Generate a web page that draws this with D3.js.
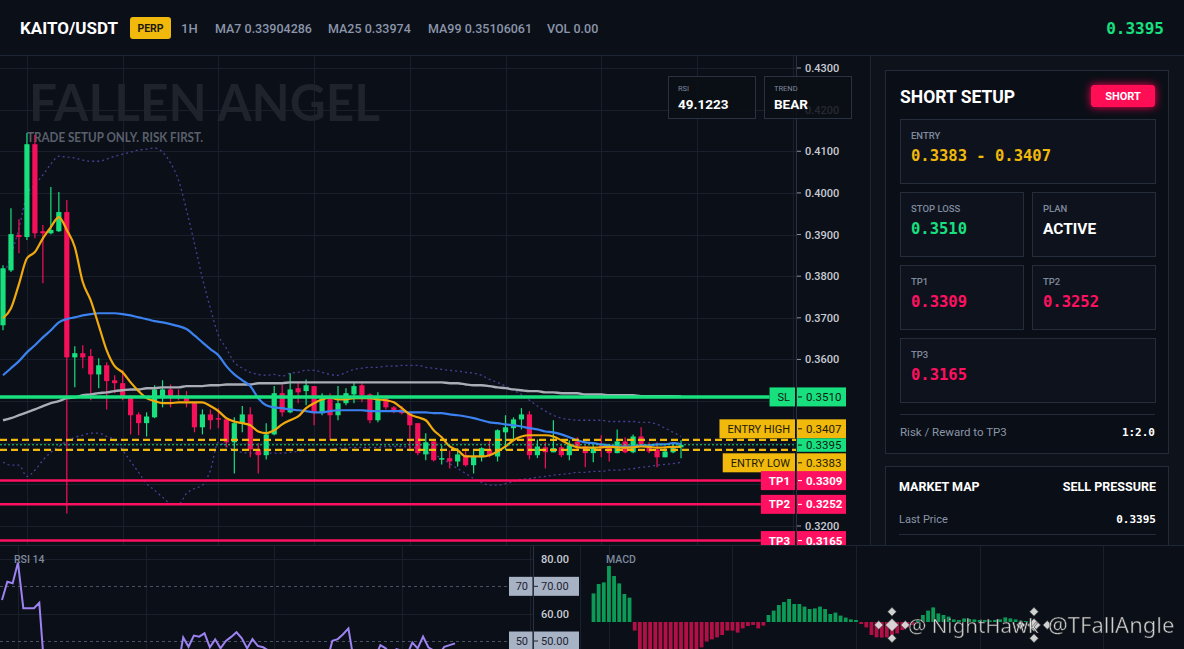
<!DOCTYPE html>
<html lang="en">
<head>
<meta charset="UTF-8" />
<title>KAITO/USDT Short Setup</title>
<style>
  body { margin: 0; background: #0b0f17; overflow: hidden; }
  svg { display: block; font-family: Roboto, "Noto Sans", sans-serif; }
  .mono { font-family: "DejaVu Sans Mono", monospace; }
</style>
</head>
<body>
<div id="chart"></div>
<script src="https://cdn.jsdelivr.net/npm/d3@7/dist/d3.min.js"></script>
<script>
// ---- data ----
var opens = [0.3682,0.3814,0.3899,0.3894,0.4117,0.3908,0.3903,0.3908,0.3954,0.3605,0.3615,0.3608,0.3564,0.3586,0.3550,0.3543,0.3509,0.3468,0.3447,0.3461,0.3507,0.3528,0.3514,0.3512,0.3495,0.3437,0.3468,0.3459,0.3456,0.3401,0.3447,0.3468,0.3384,0.3370,0.3420,0.3519,0.3473,0.3531,0.3524,0.3536,0.3471,0.3512,0.3466,0.3495,0.3516,0.3538,0.3516,0.3454,0.3512,0.3485,0.3480,0.3471,0.3447,0.3372,0.3403,0.3360,0.3363,0.3355,0.3370,0.3346,0.3365,0.3384,0.3367,0.3425,0.3435,0.3456,0.3468,0.3370,0.3389,0.3377,0.3389,0.3370,0.3403,0.3391,0.3375,0.3394,0.3389,0.3375,0.3403,0.3377,0.3415,0.3394,0.3384,0.3365,0.3377,0.3389];
var highs = [0.3826,0.3963,0.3937,0.4144,0.4139,0.3923,0.4014,0.4002,0.3983,0.3632,0.3634,0.3625,0.3603,0.3593,0.3562,0.3574,0.3514,0.3473,0.3473,0.3538,0.3550,0.3540,0.3528,0.3524,0.3495,0.3480,0.3480,0.3483,0.3461,0.3461,0.3488,0.3485,0.3399,0.3447,0.3536,0.3540,0.3567,0.3545,0.3552,0.3536,0.3519,0.3519,0.3536,0.3531,0.3545,0.3543,0.3519,0.3521,0.3514,0.3488,0.3488,0.3473,0.3447,0.3423,0.3406,0.3394,0.3382,0.3387,0.3387,0.3384,0.3389,0.3406,0.3432,0.3466,0.3461,0.3483,0.3476,0.3408,0.3401,0.3454,0.3394,0.3406,0.3413,0.3394,0.3394,0.3418,0.3394,0.3432,0.3413,0.3420,0.3437,0.3401,0.3401,0.3387,0.3399,0.3406];
var lows = [0.3670,0.3810,0.3855,0.3887,0.3891,0.3783,0.3901,0.3906,0.3230,0.3533,0.3579,0.3502,0.3531,0.3480,0.3519,0.3502,0.3420,0.3418,0.3415,0.3459,0.3485,0.3485,0.3502,0.3485,0.3425,0.3420,0.3432,0.3435,0.3389,0.3326,0.3425,0.3365,0.3326,0.3360,0.3418,0.3463,0.3471,0.3495,0.3490,0.3442,0.3466,0.3406,0.3454,0.3490,0.3495,0.3497,0.3447,0.3449,0.3480,0.3471,0.3468,0.3382,0.3370,0.3358,0.3355,0.3348,0.3338,0.3343,0.3343,0.3326,0.3355,0.3365,0.3355,0.3382,0.3408,0.3432,0.3360,0.3363,0.3338,0.3377,0.3365,0.3358,0.3382,0.3341,0.3353,0.3365,0.3355,0.3375,0.3375,0.3375,0.3391,0.3375,0.3341,0.3365,0.3375,0.3363];
var closes = [0.3819,0.3901,0.3894,0.4117,0.3903,0.3903,0.3911,0.3954,0.3605,0.3615,0.3605,0.3564,0.3586,0.3548,0.3543,0.3507,0.3466,0.3447,0.3463,0.3528,0.3528,0.3509,0.3507,0.3500,0.3437,0.3468,0.3454,0.3456,0.3401,0.3447,0.3468,0.3384,0.3370,0.3420,0.3519,0.3473,0.3528,0.3521,0.3538,0.3471,0.3507,0.3466,0.3495,0.3519,0.3536,0.3514,0.3454,0.3504,0.3485,0.3478,0.3471,0.3442,0.3375,0.3401,0.3358,0.3363,0.3355,0.3372,0.3346,0.3368,0.3387,0.3370,0.3430,0.3437,0.3456,0.3468,0.3370,0.3391,0.3377,0.3387,0.3370,0.3394,0.3391,0.3375,0.3389,0.3387,0.3375,0.3403,0.3377,0.3415,0.3394,0.3379,0.3365,0.3379,0.3387,0.3395];

var ma7 = [0.3699,0.3723,0.3781,0.3843,0.3858,0.3891,0.3918,0.3942,0.3911,0.3870,0.3786,0.3742,0.3682,0.3622,0.3584,0.3569,0.3545,0.3524,0.3507,0.3500,0.3495,0.3495,0.3497,0.3497,0.3497,0.3497,0.3488,0.3476,0.3459,0.3451,0.3447,0.3442,0.3427,0.3423,0.3430,0.3444,0.3454,0.3463,0.3483,0.3495,0.3504,0.3509,0.3504,0.3504,0.3507,0.3507,0.3507,0.3504,0.3502,0.3497,0.3483,0.3468,0.3461,0.3454,0.3430,0.3413,0.3391,0.3382,0.3367,0.3367,0.3367,0.3370,0.3379,0.3391,0.3406,0.3415,0.3418,0.3418,0.3418,0.3415,0.3406,0.3396,0.3389,0.3388,0.3388,0.3389,0.3390,0.3389,0.3388,0.3389,0.3391,0.3390,0.3388,0.3389,0.3390,0.3390];
var ma25 = [0.3562,0.3579,0.3596,0.3617,0.3634,0.3653,0.3670,0.3689,0.3697,0.3701,0.3706,0.3709,0.3711,0.3711,0.3711,0.3709,0.3706,0.3701,0.3697,0.3692,0.3689,0.3685,0.3680,0.3673,0.3658,0.3641,0.3625,0.3610,0.3584,0.3564,0.3550,0.3536,0.3507,0.3490,0.3485,0.3483,0.3480,0.3478,0.3476,0.3473,0.3473,0.3476,0.3478,0.3478,0.3478,0.3478,0.3476,0.3476,0.3476,0.3476,0.3476,0.3473,0.3473,0.3473,0.3471,0.3471,0.3468,0.3466,0.3463,0.3459,0.3454,0.3449,0.3447,0.3444,0.3442,0.3439,0.3435,0.3432,0.3427,0.3425,0.3420,0.3413,0.3406,0.3401,0.3399,0.3396,0.3394,0.3391,0.3391,0.3391,0.3394,0.3394,0.3396,0.3396,0.3399,0.3397];
var ma99 = [0.3454,0.3459,0.3466,0.3473,0.3480,0.3488,0.3495,0.3500,0.3507,0.3509,0.3514,0.3516,0.3519,0.3521,0.3524,0.3526,0.3528,0.3528,0.3531,0.3531,0.3533,0.3533,0.3533,0.3536,0.3536,0.3536,0.3538,0.3538,0.3540,0.3540,0.3540,0.3540,0.3543,0.3543,0.3543,0.3543,0.3545,0.3545,0.3545,0.3545,0.3545,0.3545,0.3545,0.3545,0.3545,0.3545,0.3545,0.3545,0.3545,0.3545,0.3545,0.3545,0.3545,0.3545,0.3545,0.3545,0.3543,0.3543,0.3540,0.3538,0.3538,0.3536,0.3533,0.3531,0.3528,0.3526,0.3524,0.3524,0.3521,0.3521,0.3519,0.3519,0.3519,0.3516,0.3516,0.3516,0.3514,0.3514,0.3514,0.3514,0.3512,0.3512,0.3512,0.3512,0.3512,0.3511];
var bbUpper = [0.3798,0.3850,0.3915,0.3995,0.4019,0.4043,0.4069,0.4088,0.4086,0.4084,0.4079,0.4076,0.4076,0.4081,0.4088,0.4093,0.4098,0.4103,0.4105,0.4108,0.4098,0.4072,0.4031,0.3959,0.3879,0.3795,0.3723,0.3658,0.3627,0.3593,0.3579,0.3569,0.3564,0.3562,0.3564,0.3560,0.3567,0.3569,0.3574,0.3574,0.3569,0.3564,0.3562,0.3569,0.3576,0.3579,0.3581,0.3581,0.3584,0.3584,0.3586,0.3586,0.3586,0.3581,0.3579,0.3576,0.3574,0.3572,0.3569,0.3567,0.3562,0.3552,0.3545,0.3536,0.3526,0.3516,0.3502,0.3488,0.3476,0.3466,0.3459,0.3456,0.3454,0.3454,0.3454,0.3454,0.3451,0.3451,0.3451,0.3451,0.3449,0.3449,0.3444,0.3435,0.3425,0.3415];
var bbLower = [0.3353,0.3346,0.3346,0.3319,0.3334,0.3358,0.3377,0.3391,0.3403,0.3413,0.3418,0.3423,0.3423,0.3415,0.3406,0.3382,0.3355,0.3329,0.3302,0.3286,0.3269,0.3254,0.3252,0.3278,0.3290,0.3298,0.3334,0.3401,0.3391,0.3382,0.3377,0.3375,0.3375,0.3375,0.3375,0.3375,0.3377,0.3379,0.3382,0.3382,0.3384,0.3384,0.3387,0.3387,0.3389,0.3389,0.3389,0.3389,0.3391,0.3391,0.3391,0.3389,0.3387,0.3379,0.3370,0.3363,0.3350,0.3338,0.3326,0.3314,0.3305,0.3298,0.3298,0.3302,0.3307,0.3312,0.3314,0.3317,0.3319,0.3322,0.3324,0.3326,0.3329,0.3329,0.3331,0.3331,0.3334,0.3334,0.3336,0.3338,0.3341,0.3343,0.3346,0.3348,0.3350,0.3353];

var rsi14 = [65,71.7,71.1,78.7,62,62,62,64,38,38.5,38,36,38,35,34,33,30,29,31,38,40,38,38,37,33,37,36,36.5,32,38,41,35,34,40,51.3,47.9,52,51.6,52.8,47.7,50.6,47.3,50,51.5,53.2,51,47.3,50.7,48.2,47.7,46.5,44,40,43,39,40,39,42,39,42,44,43,50.1,50.7,52.5,54.6,43,45.5,44.5,45.5,44,48.5,47.3,45,47,46.5,45,49.4,47.3,51.6,47.7,46.5,45,47.9,48.5,49.12];
var macdHist = [0.00143,0.0019,0.00198,0.0028,0.0023,0.00193,0.0014,0.00122,-0.00043,-0.0016,-0.002,-0.0023,-0.0025,-0.0026,-0.0026,-0.0025,-0.0023,-0.0021,-0.0018,-0.0016,-0.0014,-0.00127,-0.00098,-0.00087,-0.00077,-0.00065,-0.00043,-0.00043,-0.00053,-0.00032,-0.0002,-0.00015,-0.00032,-0.00018,0.00035,0.00057,0.00085,0.001,0.00115,0.0009,0.0009,0.00077,0.00065,0.00068,0.00077,0.00065,0.0004,0.00047,0.00032,0.00022,0.00013,0.0001,-0.0001,-0.00027,-0.00065,-0.00077,-0.00078,-0.00077,-0.00068,-0.00057,-0.0004,-0.00027,-0.00015,0.0001,0.00035,0.00057,0.00073,0.00043,0.00035,0.00027,0.00013,0.0001,0.00018,0.00015,0.00013,0.0001,0.0001,0.00008,0.0001,0.00013,0.00023,0.00018,0.00013,0.00007,0.00005,0.00004];

var priceTicks = [0.32,0.33,0.34,0.35,0.36,0.37,0.38,0.39,0.40,0.41,0.42,0.43];
var rsiTicks = [80,70,60,50];
var rsiMarked = [70,50];
var gridIdx = [3,15,27,39,51,63,75,87,99];
var paneGridIdx = [3,27,51,75,99];

var levelNames = ["SL","ENTRY HIGH","ENTRY LOW","TP1","TP2","TP3"];
var levelValues = [0.3510,0.3407,0.3383,0.3309,0.3252,0.3165];
var lastPrice = 0.3395;

var headerStats = ["MA7 0.33904286","MA25 0.33974","MA99 0.35106061","VOL 0.00"];
var cardLabels = ["ENTRY","STOP LOSS","PLAN","TP1","TP2","TP3"];
var cardValues = ["0.3383 - 0.3407","0.3510","ACTIVE","0.3309","0.3252","0.3165"];
var rsiNow = "49.1223", trendNow = "BEAR", riskReward = "1:2.0";

// ---- colours ----
var bg = "#0b0f17", grid = "#1a202b", muted = "#7f8a9e";
var green = "#18e07f", red = "#f6105a", yellow = "#f0b90b", tpRed = "#ff1060";

var W = 1184, H = 649;
var svg = d3.select("#chart").append("svg").attr("width", W).attr("height", H);
svg.append("rect").attr("width", W).attr("height", H).attr("fill", bg);

var defs = svg.append("defs");
defs.append("clipPath").attr("id", "mainClip").append("rect")
  .attr("x", 0).attr("y", 56).attr("width", 796).attr("height", 489);
defs.append("clipPath").attr("id", "paneClip").append("rect")
  .attr("x", 0).attr("y", 56).attr("width", 870).attr("height", 489);
defs.append("clipPath").attr("id", "rsiClip").append("rect")
  .attr("x", 0).attr("y", 546).attr("width", 533).attr("height", 103);
defs.append("clipPath").attr("id", "macdClip").append("rect")
  .attr("x", 581).attr("y", 546).attr("width", 603).attr("height", 103);
var glow = defs.append("filter").attr("id", "glow").attr("x", "-50%").attr("y", "-80%").attr("width", "200%").attr("height", "260%");
glow.append("feGaussianBlur").attr("in", "SourceGraphic").attr("stdDeviation", 4).attr("result", "b");
var fm = glow.append("feMerge");
fm.append("feMergeNode").attr("in", "b");
fm.append("feMergeNode").attr("in", "SourceGraphic");

// ---- header ----
svg.append("line").attr("x1", 0).attr("x2", W).attr("y1", 55.5).attr("y2", 55.5).attr("stroke", "#1f2633");
svg.append("text").attr("x", 20).attr("y", 34).attr("fill", "#fff")
  .attr("font-size", 17).attr("font-weight", 700).text("KAITO/USDT");
svg.append("rect").attr("x", 130).attr("y", 17).attr("width", 41).attr("height", 22).attr("rx", 3).attr("fill", yellow);
svg.append("text").attr("x", 150.5).attr("y", 32).attr("text-anchor", "middle").attr("fill", "#1e1a0a")
  .attr("font-size", 10.5).attr("font-weight", 700).text("PERP");
svg.append("text").attr("x", 181).attr("y", 33).attr("fill", "#8a95aa")
  .attr("font-size", 13).attr("font-weight", 500).text("1H");
var statX = [215, 328, 428, 547];
svg.selectAll("text.stat").data(headerStats).enter().append("text").attr("class", "stat")
  .attr("x", function(d, i) { return statX[i]; }).attr("y", 32.5)
  .attr("fill", "#8a95aa").attr("font-size", 12.5).attr("font-weight", 500).text(function(d) { return d; });
svg.append("text").attr("class", "mono").attr("x", 1164).attr("y", 34).attr("text-anchor", "end")
  .attr("fill", green).attr("font-size", 16).attr("font-weight", 700).text(lastPrice.toFixed(4));

// ---- main price pane ----
var x = d3.scaleLinear().domain([0, 85]).range([3, 681]);
var y = d3.scaleLinear().domain([0.32, 0.43]).range([526, 68]);

var gridG = svg.append("g").attr("clip-path", "url(#mainClip)");
gridG.selectAll("line.h").data(priceTicks).enter().append("line")
  .attr("x1", 0).attr("x2", 796).attr("y1", function(d) { return Math.round(y(d)) + 0.5; })
  .attr("y2", function(d) { return Math.round(y(d)) + 0.5; }).attr("stroke", grid);
gridG.selectAll("line.v").data(gridIdx).enter().append("line")
  .attr("x1", function(d) { return Math.round(x(d)) + 0.5; }).attr("x2", function(d) { return Math.round(x(d)) + 0.5; })
  .attr("y1", 56).attr("y2", 545).attr("stroke", grid);

// watermark title
svg.append("text").attr("x", 29).attr("y", 121).attr("font-family", "Lato, 'Open Sans', sans-serif")
  .attr("font-size", 52).attr("font-weight", 700).attr("fill", "#1e232c")
  .attr("textLength", 351).attr("lengthAdjust", "spacingAndGlyphs").text("FALLEN ANGEL");
svg.append("text").attr("x", 27).attr("y", 142).attr("font-family", "Lato, 'Open Sans', sans-serif")
  .attr("font-size", 12.5).attr("font-weight", 700).attr("fill", "#59606b")
  .attr("textLength", 176).attr("lengthAdjust", "spacingAndGlyphs").text("TRADE SETUP ONLY. RISK FIRST.");

var plot = svg.append("g").attr("clip-path", "url(#mainClip)");

var idx = d3.range(opens.length);
var lineOf = function(arr) {
  return d3.line().x(function(i) { return x(i); }).y(function(i) { return y(arr[i]); }).curve(d3.curveMonotoneX)(idx);
};

// bollinger bands
[bbUpper, bbLower].forEach(function(arr) {
  plot.append("path").attr("d", lineOf(arr)).attr("fill", "none")
    .attr("stroke", "#4a3f96").attr("stroke-width", 1.3).attr("stroke-dasharray", "2,3");
});

// candles
var candles = idx.map(function(i) { return { i: i, o: opens[i], h: highs[i], l: lows[i], c: closes[i] }; });
var cg = plot.selectAll("g.candle").data(candles).enter().append("g");
cg.append("line")
  .attr("x1", function(d) { return x(d.i); }).attr("x2", function(d) { return x(d.i); })
  .attr("y1", function(d) { return y(d.h); }).attr("y2", function(d) { return y(d.l); })
  .attr("stroke", function(d) { return d.c >= d.o ? green : red; }).attr("stroke-width", 1.2);
cg.append("rect")
  .attr("x", function(d) { return x(d.i) - 2.6; }).attr("width", 5.2)
  .attr("y", function(d) { return y(Math.max(d.o, d.c)); })
  .attr("height", function(d) { return Math.max(1.5, Math.abs(y(d.o) - y(d.c))); })
  .attr("fill", function(d) { return d.c >= d.o ? green : red; });

// moving averages
plot.append("path").attr("d", lineOf(ma99)).attr("fill", "none").attr("stroke", "#a9aeb6").attr("stroke-width", 2.4);
plot.append("path").attr("d", lineOf(ma25)).attr("fill", "none").attr("stroke", "#3b82f0").attr("stroke-width", 2.2);
plot.append("path").attr("d", lineOf(ma7)).attr("fill", "none").attr("stroke", "#f0aa0e").attr("stroke-width", 2.2);

// level lines
function levelColor(n) { return n === "SL" ? green : (n.indexOf("ENTRY") === 0 ? yellow : tpRed); }
function levelText(n) { return n === "SL" ? "#0c1a12" : (n.indexOf("ENTRY") === 0 ? "#231a00" : "#ffffff"); }
var boxOffset = { "SL": -9.5, "ENTRY HIGH": -20.5, "ENTRY LOW": 3.5, "TP1": -9.5, "TP2": -9.5, "TP3": -9.5 };

plot.append("line").attr("x1", 0).attr("x2", 796).attr("y1", y(lastPrice)).attr("y2", y(lastPrice))
  .attr("stroke", green).attr("stroke-width", 1).attr("stroke-dasharray", "2,2");

var labelG = svg.append("g").attr("clip-path", "url(#mainClip)");
levelNames.forEach(function(n, k) {
  var ly = y(levelValues[k]);
  var col = levelColor(n);
  var g = labelG.append("g");
  var rect = g.append("rect").attr("fill", col);
  var t = g.append("text").attr("x", 790).attr("y", ly + boxOffset[n] + 13.5).attr("text-anchor", "end")
    .attr("font-size", n.indexOf("TP") === 0 ? 11.5 : 11).attr("font-weight", n.indexOf("TP") === 0 ? 700 : 400)
    .attr("fill", levelText(n)).text(n);
  var tw = t.node().getComputedTextLength();
  rect.attr("x", 790 - tw - 8).attr("y", ly + boxOffset[n]).attr("width", tw + 13).attr("height", 19);
  var x2 = n.indexOf("ENTRY") === 0 ? 796 : 790 - tw - 8;
  var ln = plot.append("line").attr("x1", 0).attr("x2", x2).attr("y1", ly).attr("y2", ly).attr("stroke", col);
  if (n.indexOf("ENTRY") === 0) ln.attr("stroke-width", 2.2).attr("stroke-dasharray", "7,4");
  else ln.attr("stroke-width", n === "SL" ? 3.6 : 2.5);
});

// price axis
svg.append("line").attr("x1", 796.5).attr("x2", 796.5).attr("y1", 56).attr("y2", 545).attr("stroke", "#2a3140");
svg.append("line").attr("x1", 870.5).attr("x2", 870.5).attr("y1", 56).attr("y2", 545).attr("stroke", "#1f2633");
var boxCenters = levelNames.map(function(n, k) { return y(levelValues[k]) + boxOffset[n] + 9.5; })
  .concat([y(lastPrice)]);
var axisG = svg.append("g");
priceTicks.forEach(function(p) {
  var hidden = boxCenters.some(function(c) { return Math.abs(c - y(p)) < 14; });
  axisG.append("line").attr("x1", 797).attr("x2", 801).attr("y1", y(p)).attr("y2", y(p)).attr("stroke", "#8a93a3");
  if (!hidden) {
    axisG.append("text").attr("x", 805).attr("y", y(p) + 4).attr("fill", "#c8ccd4")
      .attr("font-size", 11).attr("font-weight", 500).text(p.toFixed(4));
  }
});

// value boxes on the axis
var valG = svg.append("g").attr("clip-path", "url(#paneClip)");
function valueBox(v, top, h, col, tcol) {
  valG.append("rect").attr("x", 797).attr("y", top).attr("width", 49).attr("height", h).attr("fill", col);
  valG.append("line").attr("x1", 798).attr("x2", 802).attr("y1", top + h / 2).attr("y2", top + h / 2).attr("stroke", tcol);
  valG.append("text").attr("x", 806).attr("y", top + h / 2 + 4).attr("fill", tcol)
    .attr("font-size", 11.5).attr("font-weight", tcol === "#ffffff" ? 700 : 400).text(v.toFixed(4));
}
levelNames.forEach(function(n, k) {
  valueBox(levelValues[k], y(levelValues[k]) + boxOffset[n], 19, levelColor(n), levelText(n));
});
valueBox(lastPrice, y(lastPrice) - 6.5, 13.5, green, "#0c1a12");

// RSI / TREND info boxes
[["RSI", rsiNow, 668.5], ["TREND", trendNow, 764.5]].forEach(function(b) {
  svg.append("rect").attr("x", b[2]).attr("y", 76.5).attr("width", 87).attr("height", 42)
    .attr("fill", "rgba(10,14,21,0.86)").attr("stroke", "#2a3242");
  svg.append("text").attr("x", b[2] + 9.5).attr("y", 91).attr("fill", muted).attr("font-size", 7.5).text(b[0]);
  svg.append("text").attr("x", b[2] + 9.5).attr("y", 109).attr("fill", "#fff")
    .attr("font-size", 13.5).attr("font-weight", 700).text(b[1]);
});

// ---- right setup panel ----
svg.append("rect").attr("x", 871).attr("y", 56).attr("width", 313).attr("height", 489).attr("fill", "#0e121b");
svg.append("rect").attr("x", 885.5).attr("y", 70.5).attr("width", 283).attr("height", 383)
  .attr("fill", "#0a0e16").attr("stroke", "#232b39");
svg.append("text").attr("x", 900).attr("y", 103).attr("fill", "#fff").attr("font-size", 17.5)
  .attr("font-weight", 700).text("SHORT SETUP");
svg.append("rect").attr("x", 1091).attr("y", 85).attr("width", 64).attr("height", 22).attr("rx", 3)
  .attr("fill", "#ff0a54").attr("filter", "url(#glow)");
svg.append("text").attr("x", 1123).attr("y", 100).attr("text-anchor", "middle").attr("fill", "#fff")
  .attr("font-size", 11).attr("font-weight", 700).text("SHORT");

var cardBoxes = [[900.5, 119.5, 255], [900.5, 192.5, 123], [1032.5, 192.5, 123],
                 [900.5, 265.5, 123], [1032.5, 265.5, 123], [900.5, 338.5, 255]];
var cardColors = [yellow, green, "#ffffff", tpRed, tpRed, tpRed];
cardLabels.forEach(function(lbl, k) {
  var b = cardBoxes[k];
  svg.append("rect").attr("x", b[0]).attr("y", b[1]).attr("width", b[2]).attr("height", 64)
    .attr("fill", "#0d121c").attr("stroke", "#252d3b");
  svg.append("text").attr("x", b[0] + 10.5).attr("y", b[1] + 19.5).attr("fill", muted)
    .attr("font-size", 9.5).attr("font-weight", 500).text(lbl);
  var v = svg.append("text").attr("x", b[0] + 10.5).attr("y", b[1] + 41.5).attr("fill", cardColors[k])
    .attr("font-weight", 700).text(cardValues[k]);
  if (cardValues[k] === "ACTIVE") v.attr("font-size", 15.5);
  else v.attr("class", "mono").attr("font-size", 15.5);
});
svg.append("line").attr("x1", 900).attr("x2", 1155).attr("y1", 414.5).attr("y2", 414.5).attr("stroke", "#232b39");
svg.append("text").attr("x", 900).attr("y", 436).attr("fill", "#8a95a8").attr("font-size", 11.5).text("Risk / Reward to TP3");
svg.append("text").attr("class", "mono").attr("x", 1155).attr("y", 436).attr("text-anchor", "end")
  .attr("fill", "#fff").attr("font-size", 11).attr("font-weight", 700).text(riskReward);

svg.append("rect").attr("x", 885.5).attr("y", 466.5).attr("width", 283).attr("height", 120)
  .attr("fill", "#0a0e16").attr("stroke", "#232b39");
svg.append("text").attr("x", 899).attr("y", 491).attr("fill", "#fff").attr("font-size", 12.5)
  .attr("font-weight", 700).text("MARKET MAP");
svg.append("text").attr("x", 1156).attr("y", 491).attr("text-anchor", "end").attr("fill", "#fff")
  .attr("font-size", 12.5).attr("font-weight", 700).text("SELL PRESSURE");
svg.append("text").attr("x", 899).attr("y", 523).attr("fill", "#8a95a8").attr("font-size", 11).text("Last Price");
svg.append("text").attr("class", "mono").attr("x", 1156).attr("y", 523).attr("text-anchor", "end")
  .attr("fill", "#fff").attr("font-size", 11).attr("font-weight", 700).text(lastPrice.toFixed(4));
svg.append("line").attr("x1", 899).attr("x2", 1156).attr("y1", 534.5).attr("y2", 534.5).attr("stroke", "#232b39");

// ---- bottom panes ----
svg.append("rect").attr("x", 0).attr("y", 545).attr("width", W).attr("height", H - 545).attr("fill", bg);
svg.append("line").attr("x1", 0).attr("x2", W).attr("y1", 545.5).attr("y2", 545.5).attr("stroke", "#1f2633");
svg.append("line").attr("x1", 580.5).attr("x2", 580.5).attr("y1", 546).attr("y2", H).attr("stroke", grid);

// RSI
var rx = d3.scaleLinear().domain([0, 85]).range([2, 455]);
var ry = d3.scaleLinear().domain([50, 80]).range([641, 559]);
var rsiG = svg.append("g").attr("clip-path", "url(#rsiClip)");
paneGridIdx.forEach(function(i) {
  rsiG.append("line").attr("x1", Math.round(rx(i)) + 0.5).attr("x2", Math.round(rx(i)) + 0.5)
    .attr("y1", 546).attr("y2", H).attr("stroke", grid);
});
rsiTicks.forEach(function(t) {
  var marked = rsiMarked.indexOf(t) >= 0;
  rsiG.append("line").attr("x1", 0).attr("x2", 533).attr("y1", Math.round(ry(t)) + 0.5).attr("y2", Math.round(ry(t)) + 0.5)
    .attr("stroke", marked ? "#4a5162" : grid).attr("stroke-dasharray", marked ? "3,3" : null);
});
rsiG.append("path")
  .attr("d", d3.line().x(function(i) { return rx(i); }).y(function(i) { return ry(rsi14[i]); })(idx))
  .attr("fill", "none").attr("stroke", "#9d82f2").attr("stroke-width", 2);
svg.append("text").attr("x", 14).attr("y", 563).attr("fill", muted).attr("font-size", 10.5)
  .attr("font-weight", 500).text("RSI 14");
svg.append("line").attr("x1", 533.5).attr("x2", 533.5).attr("y1", 546).attr("y2", H).attr("stroke", "#2a3140");
rsiTicks.forEach(function(t) {
  var ty = ry(t);
  if (rsiMarked.indexOf(t) >= 0) {
    svg.append("rect").attr("x", 509).attr("y", ty - 9.5).attr("width", 23.5).attr("height", 19).attr("fill", "#a7b2c4");
    svg.append("text").attr("x", 528).attr("y", ty + 4).attr("text-anchor", "end").attr("fill", "#1c2330")
      .attr("font-size", 11).text(t);
    svg.append("rect").attr("x", 534).attr("y", ty - 9.5).attr("width", 45).attr("height", 19).attr("fill", "#a7b2c4");
    svg.append("line").attr("x1", 534).attr("x2", 538).attr("y1", ty).attr("y2", ty).attr("stroke", "#1c2330");
    svg.append("text").attr("x", 541).attr("y", ty + 4).attr("fill", "#1c2330").attr("font-size", 11).text(t.toFixed(2));
  } else {
    svg.append("text").attr("x", 541).attr("y", ty + 4).attr("fill", "#c8ccd4").attr("font-size", 11)
      .attr("font-weight", 500).text(t.toFixed(2));
  }
});

// MACD histogram
var mx = d3.scaleLinear().domain([0, 85]).range([593.5, 1031]);
var my = d3.scaleLinear().domain([0, 0.0028]).range([622, 566]);
var macdG = svg.append("g").attr("clip-path", "url(#macdClip)");
paneGridIdx.forEach(function(i) {
  macdG.append("line").attr("x1", Math.round(mx(i)) + 0.5).attr("x2", Math.round(mx(i)) + 0.5)
    .attr("y1", 546).attr("y2", H).attr("stroke", grid);
});
macdG.selectAll("rect.bar").data(macdHist).enter().append("rect")
  .attr("x", function(d, i) { return mx(i) - 1.9; }).attr("width", 3.8)
  .attr("y", function(d) { return Math.min(my(0), my(d)); })
  .attr("height", function(d) { return Math.max(0.8, Math.abs(my(d) - my(0))); })
  .attr("fill", function(d) { return d >= 0 ? "#0b9b57" : "#b10f45"; });
svg.append("text").attr("x", 606).attr("y", 563).attr("fill", muted).attr("font-size", 10.5)
  .attr("font-weight", 500).text("MACD");

// ---- watermark ----
function logo(cx, cy, s) {
  var g = svg.append("g").attr("transform", "translate(" + cx + "," + cy + ") rotate(45)")
    .attr("fill", "#e6e6e6").attr("stroke", "#333").attr("stroke-width", 0.6).attr("opacity", 0.9);
  g.append("rect").attr("x", -s * 0.18).attr("y", -s * 0.18).attr("width", s * 0.36).attr("height", s * 0.36);
  [[-1, -1], [1, -1], [-1, 1], [1, 1]].forEach(function(o) {
    g.append("rect").attr("x", o[0] * s * 0.36 - s * 0.12).attr("y", o[1] * s * 0.36 - s * 0.12)
      .attr("width", s * 0.24).attr("height", s * 0.24);
  });
}
logo(892, 625, 26);
logo(1034, 625, 26);
svg.append("text").attr("x", 908).attr("y", 633).attr("font-family", "'Noto Sans', sans-serif")
  .attr("font-size", 20.5).attr("fill", "#ebebeb").attr("opacity", 0.88).attr("stroke", "#222").attr("stroke-width", 0.5)
  .text("@ NightHawk");
svg.append("text").attr("x", 1048).attr("y", 633).attr("font-family", "'Noto Sans', sans-serif")
  .attr("font-size", 22).attr("fill", "#ebebeb").attr("opacity", 0.88).attr("stroke", "#222").attr("stroke-width", 0.5)
  .text("@TFallAngle");
</script>
</body>
</html>
